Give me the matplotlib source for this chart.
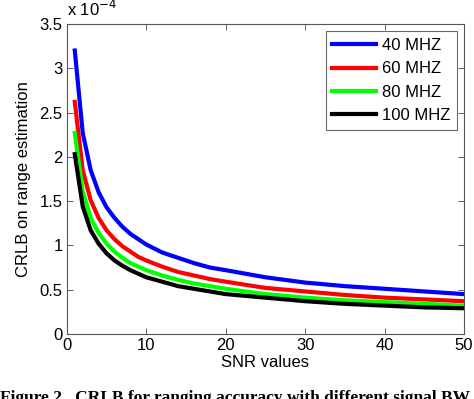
import matplotlib
matplotlib.use("Agg")
import matplotlib.pyplot as plt
import numpy as np

plt.rcParams['font.family'] = ['Liberation Sans', 'DejaVu Sans']

snr = [1, 2, 3, 4, 5, 6, 7, 8, 9, 10, 12, 14, 16, 18, 20, 25, 30, 35, 40, 45, 50]
crlb_40 = [3.20, 2.27, 1.85, 1.60, 1.43, 1.31, 1.21, 1.13, 1.07, 1.01, 0.92, 0.86, 0.80, 0.75, 0.72, 0.64, 0.58, 0.54, 0.51, 0.48, 0.45]
crlb_60 = [2.62, 1.85, 1.51, 1.31, 1.17, 1.07, 0.99, 0.93, 0.87, 0.83, 0.76, 0.70, 0.66, 0.62, 0.59, 0.52, 0.48, 0.44, 0.41, 0.39, 0.37]
crlb_80 = [2.27, 1.61, 1.31, 1.14, 1.02, 0.93, 0.86, 0.80, 0.76, 0.72, 0.66, 0.61, 0.57, 0.54, 0.51, 0.45, 0.41, 0.38, 0.36, 0.34, 0.32]
crlb_100 = [2.03, 1.44, 1.17, 1.02, 0.91, 0.83, 0.77, 0.72, 0.68, 0.64, 0.59, 0.54, 0.51, 0.48, 0.45, 0.41, 0.37, 0.34, 0.32, 0.30, 0.29]
labels = ['40 MHZ', '60 MHZ', '80 MHZ', '100 MHZ']
colors = ['#0000ff', '#ff0000', '#00ff00', '#000000']
xticks = [0, 10, 20, 30, 40, 50]
yticks = [0, 0.5, 1, 1.5, 2, 2.5, 3, 3.5]

fig = plt.figure(figsize=(4.74, 3.99), dpi=100)
ax = fig.add_axes([0.141, 0.163, 0.838, 0.777])

for ys, lab, c in zip([crlb_40, crlb_60, crlb_80, crlb_100], labels, colors):
    ax.plot(snr, ys, color=c, lw=3, label=lab, solid_joinstyle='round')

ax.set_xlim(0, 50)
ax.set_ylim(0, 3.5)
ax.set_xticks(xticks)
ax.set_yticks(yticks)
ax.set_xticklabels([str(t) for t in xticks])
ax.set_yticklabels(['0', '0.5', '1', '1.5', '2', '2.5', '3', '3.5'])
ax.tick_params(direction='in', top=True, right=True, labelsize=12, length=4, width=0.6, pad=3, colors='#444444', labelcolor='black')
for s in ax.spines.values():
    s.set_linewidth(0.8)
    s.set_color('#555555')

ax.set_xlabel('SNR values', fontsize=12, labelpad=1)
ax.set_ylabel('CRLB on range estimation', fontsize=12, labelpad=6)

fig.text(0.141, 0.952, r'x 10$^{-4}$', fontsize=12, ha='left', va='bottom')

leg = ax.legend(loc='upper right', fontsize=12, frameon=True, fancybox=False,
                handlelength=2.6, handletextpad=0.35, borderpad=0.4, labelspacing=0.5,
                borderaxespad=0.45)
leg.get_frame().set_edgecolor('#444444')
leg.get_frame().set_linewidth(0.8)
for line in leg.get_lines():
    line.set_linewidth(3)

fig.text(0.0, 0.002, 'Figure 2   CRLB for ranging accuracy with different signal BW',
         fontsize=12.5, fontweight='bold', family=['Liberation Serif'], ha='left', va='center')

fig.savefig('out.png', dpi=100)
